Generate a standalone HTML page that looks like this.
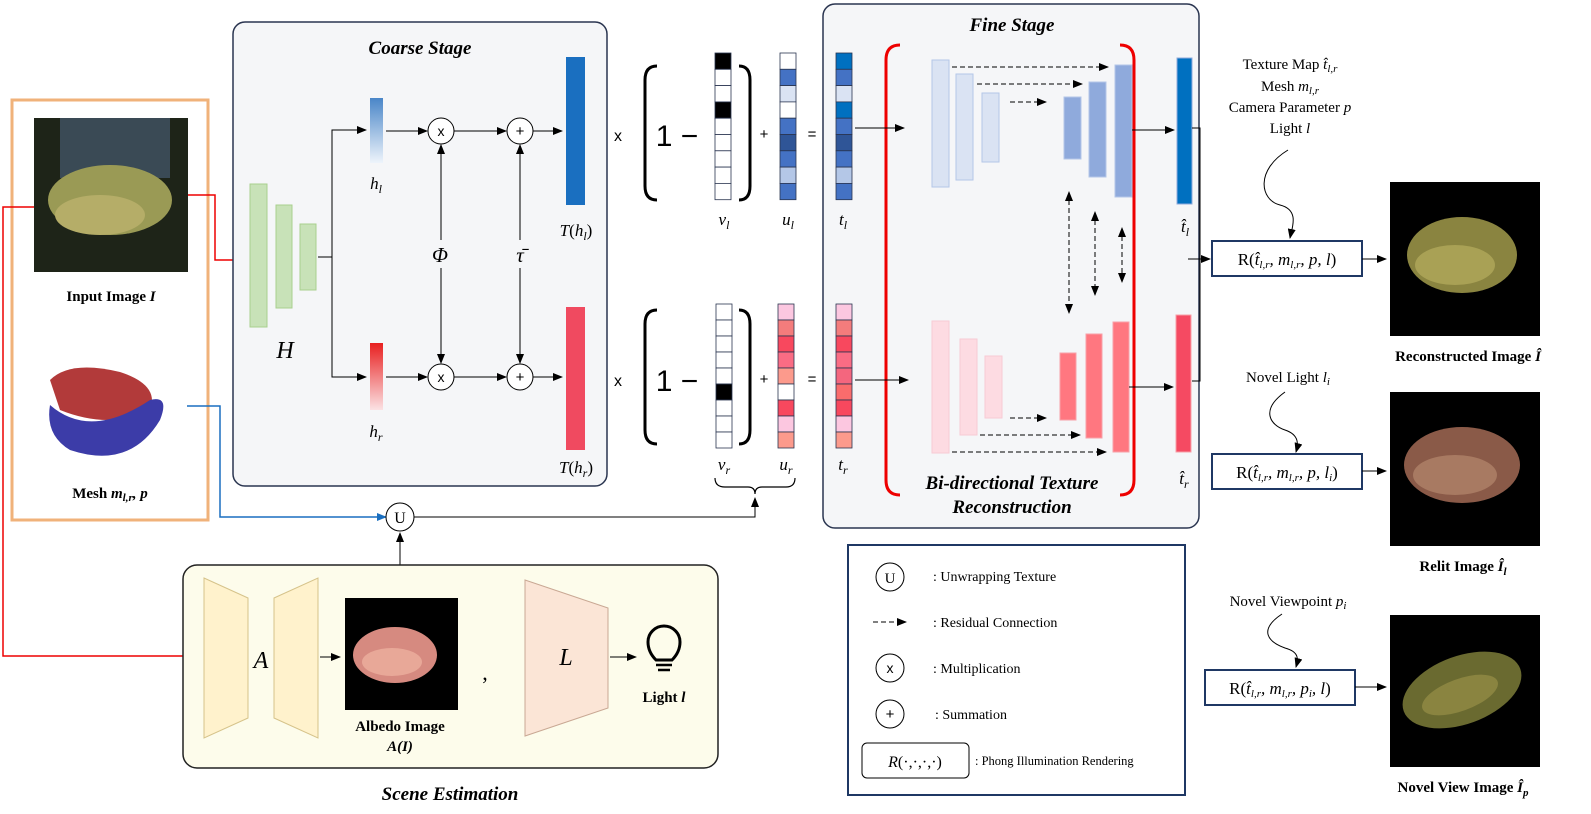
<!DOCTYPE html>
<html><head><meta charset="utf-8"><style>
body{margin:0;background:#fff}
svg{display:block;font-family:"Liberation Serif",serif}
</style></head><body>
<svg width="1591" height="814" viewBox="0 0 1591 814" xmlns="http://www.w3.org/2000/svg">
<defs>
<marker id="a" markerWidth="10" markerHeight="8" refX="9" refY="4" orient="auto" markerUnits="userSpaceOnUse"><path d="M0,0L10,4L0,8z" fill="#000"/></marker>
<marker id="ar" markerWidth="10" markerHeight="8" refX="9" refY="4" orient="auto" markerUnits="userSpaceOnUse"><path d="M0,0L10,4L0,8z" fill="#e00"/></marker>
<marker id="ab" markerWidth="10" markerHeight="8" refX="9" refY="4" orient="auto" markerUnits="userSpaceOnUse"><path d="M0,0L10,4L0,8z" fill="#1a6fc0"/></marker>
<marker id="as" markerWidth="10" markerHeight="8" refX="1" refY="4" orient="auto-start-reverse" markerUnits="userSpaceOnUse"><path d="M0,0L10,4L0,8z" fill="#000"/></marker>
<linearGradient id="gb" x1="0" y1="0" x2="0" y2="1"><stop offset="0" stop-color="#4a86c8"/><stop offset="1" stop-color="#eef4fb"/></linearGradient>
<linearGradient id="gr" x1="0" y1="0" x2="0" y2="1"><stop offset="0" stop-color="#e82020"/><stop offset="1" stop-color="#fbe2e4"/></linearGradient>
</defs>

<!-- Fine stage background first -->
<rect x="823" y="4" width="376" height="524" rx="12" fill="#f5f6f8" stroke="#2a3550" stroke-width="1.5"/>

<!-- Orange input box -->
<rect x="12" y="100" width="196" height="420" fill="none" stroke="#f0b27a" stroke-width="3"/>
<rect x="34" y="118" width="154" height="154" fill="#1e2418"/>
<rect x="60" y="118" width="110" height="60" fill="#3a4a55"/>
<ellipse cx="110" cy="200" rx="62" ry="35" fill="#9a9a55"/>
<ellipse cx="100" cy="215" rx="45" ry="20" fill="#b5ad68"/>
<text x="111" y="301" font-size="15" font-weight="bold" text-anchor="middle">Input Image <tspan font-style="italic">I</tspan></text>
<path d="M50,380 Q70,360 120,372 Q160,385 150,410 Q110,430 60,410 Z" fill="#b23a3a"/>
<path d="M50,405 Q90,440 150,400 Q170,395 160,420 Q130,470 70,450 Q45,435 50,405 Z" fill="#3c3ca8"/>
<text x="110" y="498" font-size="15" font-weight="bold" text-anchor="middle">Mesh <tspan font-style="italic">m<tspan font-size="11" dy="3">l,r</tspan><tspan dy="-3">, p</tspan></tspan></text>

<polyline points="188,195 215,195 215,260 248,260" fill="none" stroke="#e00" stroke-width="1.5" marker-end="url(#ar)"/>
<polyline points="34,207 3,207 3,656 200,656" fill="none" stroke="#e00" stroke-width="1.5" marker-end="url(#ar)"/>
<polyline points="187,406 220,406 220,517 386,517" fill="none" stroke="#1a6fc0" stroke-width="1.5" marker-end="url(#ab)"/>

<!-- Coarse stage -->
<rect x="233" y="22" width="374" height="464" rx="12" fill="#f5f6f8" stroke="#2a3550" stroke-width="1.5"/>
<text x="420" y="54" font-size="19" font-weight="bold" font-style="italic" text-anchor="middle">Coarse Stage</text>
<rect x="250" y="184" width="17" height="143" fill="#c8e2b8" stroke="#a9d08e"/>
<rect x="276" y="205" width="16" height="103" fill="#c8e2b8" stroke="#a9d08e"/>
<rect x="300" y="224" width="16" height="66" fill="#c8e2b8" stroke="#a9d08e"/>
<text x="285" y="358" font-size="24" font-style="italic" text-anchor="middle">H</text>
<polyline points="318,257 332,257 332,130 366,130" fill="none" stroke="#000" marker-end="url(#a)"/>
<polyline points="332,257 332,377 366,377" fill="none" stroke="#000" marker-end="url(#a)"/>
<rect x="370" y="98" width="13" height="65" fill="url(#gb)"/>
<rect x="370" y="343" width="13" height="67" fill="url(#gr)"/>
<text x="376" y="189" font-size="17" font-style="italic" text-anchor="middle">h<tspan font-size="12" dy="4">l</tspan></text>
<text x="376" y="437" font-size="17" font-style="italic" text-anchor="middle">h<tspan font-size="12" dy="4">r</tspan></text>
<line x1="386" y1="131" x2="427" y2="131" stroke="#000" marker-end="url(#a)"/>
<line x1="386" y1="377" x2="427" y2="377" stroke="#000" marker-end="url(#a)"/>
<circle cx="441" cy="131" r="13" fill="#fff" stroke="#000"/><text x="441" y="136" font-size="14" font-family="Liberation Sans" text-anchor="middle">x</text>
<circle cx="441" cy="377" r="13" fill="#fff" stroke="#000"/><text x="441" y="382" font-size="14" font-family="Liberation Sans" text-anchor="middle">x</text>
<circle cx="520" cy="131" r="13" fill="#fff" stroke="#000"/><text x="520" y="136" font-size="15" font-family="Liberation Sans" text-anchor="middle">+</text>
<circle cx="520" cy="377" r="13" fill="#fff" stroke="#000"/><text x="520" y="382" font-size="15" font-family="Liberation Sans" text-anchor="middle">+</text>
<line x1="454" y1="131" x2="506" y2="131" stroke="#000" marker-end="url(#a)"/>
<line x1="454" y1="377" x2="506" y2="377" stroke="#000" marker-end="url(#a)"/>
<line x1="533" y1="131" x2="562" y2="131" stroke="#000" marker-end="url(#a)"/>
<line x1="533" y1="377" x2="562" y2="377" stroke="#000" marker-end="url(#a)"/>
<line x1="441" y1="240" x2="441" y2="145" stroke="#000" marker-end="url(#a)"/>
<line x1="441" y1="268" x2="441" y2="363" stroke="#000" marker-end="url(#a)"/>
<line x1="520" y1="240" x2="520" y2="145" stroke="#000" marker-end="url(#a)"/>
<line x1="520" y1="268" x2="520" y2="363" stroke="#000" marker-end="url(#a)"/>
<text x="440" y="262" font-size="21" font-style="italic" text-anchor="middle">Φ</text>
<text x="520" y="262" font-size="21" font-style="italic" text-anchor="middle">τ̄</text>
<rect x="566" y="57" width="19" height="148" fill="#1a6fc0"/>
<rect x="566" y="307" width="19" height="143" fill="#f04a60"/>
<text x="576" y="236" font-size="17" text-anchor="middle"><tspan font-style="italic">T</tspan>(<tspan font-style="italic">h</tspan><tspan font-size="12" dy="4" font-style="italic">l</tspan><tspan dy="-4">)</tspan></text>
<text x="576" y="473" font-size="17" text-anchor="middle"><tspan font-style="italic">T</tspan>(<tspan font-style="italic">h</tspan><tspan font-size="12" dy="4" font-style="italic">r</tspan><tspan dy="-4">)</tspan></text>

<g font-family="Liberation Sans">
<text x="618" y="141" font-size="16" text-anchor="middle">x</text>
<text x="618" y="386" font-size="16" text-anchor="middle">x</text>
<text x="677" y="146" font-size="30" text-anchor="middle">1 −</text>
<text x="677" y="391" font-size="30" text-anchor="middle">1 −</text>
<text x="764" y="139" font-size="15" text-anchor="middle">+</text>
<text x="764" y="384" font-size="15" text-anchor="middle">+</text>
<text x="812" y="139" font-size="15" text-anchor="middle">=</text>
<text x="812" y="384" font-size="15" text-anchor="middle">=</text>
</g>
<path d="M657,66 Q645,66 645,80 L645,186 Q645,200 657,200" fill="none" stroke="#000" stroke-width="3"/>
<path d="M739,66 Q750,66 750,80 L750,186 Q750,200 739,200" fill="none" stroke="#000" stroke-width="3"/>
<path d="M657,310 Q645,310 645,324 L645,430 Q645,444 657,444" fill="none" stroke="#000" stroke-width="3"/>
<path d="M739,310 Q750,310 750,324 L750,430 Q750,444 739,444" fill="none" stroke="#000" stroke-width="3"/>
<g stroke="#2a3550" stroke-width="0.8">
<rect x="715" y="53" width="16" height="16.3" fill="#000"/><rect x="715" y="69.3" width="16" height="16.3" fill="#fff"/><rect x="715" y="85.6" width="16" height="16.3" fill="#fff"/><rect x="715" y="101.9" width="16" height="16.3" fill="#000"/><rect x="715" y="118.2" width="16" height="16.3" fill="#fff"/><rect x="715" y="134.5" width="16" height="16.3" fill="#fff"/><rect x="715" y="150.8" width="16" height="16.3" fill="#fff"/><rect x="715" y="167.1" width="16" height="16.3" fill="#fff"/><rect x="715" y="183.4" width="16" height="16.3" fill="#fff"/>
<rect x="780" y="53" width="16" height="16.3" fill="#fff"/><rect x="780" y="69.3" width="16" height="16.3" fill="#4472c4"/><rect x="780" y="85.6" width="16" height="16.3" fill="#dae3f3"/><rect x="780" y="101.9" width="16" height="16.3" fill="#fff"/><rect x="780" y="118.2" width="16" height="16.3" fill="#4472c4"/><rect x="780" y="134.5" width="16" height="16.3" fill="#2f5597"/><rect x="780" y="150.8" width="16" height="16.3" fill="#4472c4"/><rect x="780" y="167.1" width="16" height="16.3" fill="#b4c7e7"/><rect x="780" y="183.4" width="16" height="16.3" fill="#4472c4"/>
<rect x="836" y="53" width="16" height="16.3" fill="#0070c0"/><rect x="836" y="69.3" width="16" height="16.3" fill="#4472c4"/><rect x="836" y="85.6" width="16" height="16.3" fill="#dae3f3"/><rect x="836" y="101.9" width="16" height="16.3" fill="#0070c0"/><rect x="836" y="118.2" width="16" height="16.3" fill="#4472c4"/><rect x="836" y="134.5" width="16" height="16.3" fill="#2f5597"/><rect x="836" y="150.8" width="16" height="16.3" fill="#4472c4"/><rect x="836" y="167.1" width="16" height="16.3" fill="#b4c7e7"/><rect x="836" y="183.4" width="16" height="16.3" fill="#4472c4"/>
<rect x="716" y="304" width="16" height="16" fill="#fff"/><rect x="716" y="320" width="16" height="16" fill="#fff"/><rect x="716" y="336" width="16" height="16" fill="#fff"/><rect x="716" y="352" width="16" height="16" fill="#fff"/><rect x="716" y="368" width="16" height="16" fill="#fff"/><rect x="716" y="384" width="16" height="16" fill="#000"/><rect x="716" y="400" width="16" height="16" fill="#fff"/><rect x="716" y="416" width="16" height="16" fill="#fff"/><rect x="716" y="432" width="16" height="16" fill="#fff"/>
<rect x="778" y="304" width="16" height="16" fill="#fcc7e0"/><rect x="778" y="320" width="16" height="16" fill="#f47c7c"/><rect x="778" y="336" width="16" height="16" fill="#f8485e"/><rect x="778" y="352" width="16" height="16" fill="#fa6c84"/><rect x="778" y="368" width="16" height="16" fill="#fc9a8c"/><rect x="778" y="384" width="16" height="16" fill="#fff"/><rect x="778" y="400" width="16" height="16" fill="#f8485e"/><rect x="778" y="416" width="16" height="16" fill="#fcc7e0"/><rect x="778" y="432" width="16" height="16" fill="#fc9a8c"/>
<rect x="836" y="304" width="16" height="16" fill="#fcc7e0"/><rect x="836" y="320" width="16" height="16" fill="#f47c7c"/><rect x="836" y="336" width="16" height="16" fill="#f8485e"/><rect x="836" y="352" width="16" height="16" fill="#fa6c84"/><rect x="836" y="368" width="16" height="16" fill="#f4667e"/><rect x="836" y="384" width="16" height="16" fill="#fa6c6c"/><rect x="836" y="400" width="16" height="16" fill="#f8485e"/><rect x="836" y="416" width="16" height="16" fill="#fcc7e0"/><rect x="836" y="432" width="16" height="16" fill="#fc9a8c"/>
</g>
<g font-size="17" font-style="italic" text-anchor="middle">
<text x="724" y="225">v<tspan font-size="12" dy="4">l</tspan></text>
<text x="788" y="225">u<tspan font-size="12" dy="4">l</tspan></text>
<text x="843" y="225">t<tspan font-size="12" dy="4">l</tspan></text>
<text x="724" y="470">v<tspan font-size="12" dy="4">r</tspan></text>
<text x="786" y="470">u<tspan font-size="12" dy="4">r</tspan></text>
<text x="843" y="470">t<tspan font-size="12" dy="4">r</tspan></text>
</g>
<path d="M715,478 Q715,487 725,487 L748,487 Q755,487 755,494 Q755,487 762,487 L786,487 Q795,487 795,478" fill="none" stroke="#000" stroke-width="1.2"/>
<circle cx="400" cy="517" r="14" fill="#fff" stroke="#000"/><text x="400" y="523" font-size="16" text-anchor="middle">U</text>
<polyline points="414,517 755,517 755,498" fill="none" stroke="#000" marker-end="url(#a)"/>
<line x1="400" y1="598" x2="400" y2="533" stroke="#000" marker-end="url(#a)"/>

<!-- Fine stage contents -->
<text x="1012" y="31" font-size="19" font-weight="bold" font-style="italic" text-anchor="middle">Fine Stage</text>
<path d="M900,45 Q886,45 886,60 L886,480 Q886,495 900,495" fill="none" stroke="#e00" stroke-width="3"/>
<path d="M1120,45 Q1134,45 1134,60 L1134,480 Q1134,495 1120,495" fill="none" stroke="#e00" stroke-width="3"/>
<line x1="855" y1="128" x2="904" y2="128" stroke="#000" marker-end="url(#a)"/>
<line x1="855" y1="380" x2="908" y2="380" stroke="#000" marker-end="url(#a)"/>
<g stroke="#b4c7e7"><rect x="932" y="60" width="17" height="127" fill="#dae3f3"/><rect x="956" y="74" width="17" height="106" fill="#dae3f3"/><rect x="982" y="93" width="17" height="69" fill="#dae3f3"/>
<rect x="1064" y="97" width="17" height="62" fill="#8faadc"/><rect x="1089" y="82" width="17" height="95" fill="#8faadc"/><rect x="1115" y="65" width="17" height="132" fill="#8faadc"/></g>
<g stroke="#f8cbd4"><rect x="932" y="321" width="17" height="132" fill="#fddbe2"/><rect x="960" y="339" width="17" height="96" fill="#fddbe2"/><rect x="985" y="356" width="17" height="62" fill="#fddbe2"/></g>
<g stroke="#f8a0a8"><rect x="1060" y="353" width="16" height="67" fill="#ff7780"/><rect x="1086" y="334" width="16" height="104" fill="#ff7780"/><rect x="1113" y="322" width="16" height="130" fill="#ff7780"/></g>
<g stroke="#000" stroke-dasharray="5,3" fill="none">
<line x1="952" y1="67" x2="1108" y2="67" marker-end="url(#a)"/>
<line x1="977" y1="84" x2="1082" y2="84" marker-end="url(#a)"/>
<line x1="1010" y1="102" x2="1046" y2="102" marker-end="url(#a)"/>
<line x1="1010" y1="418" x2="1046" y2="418" marker-end="url(#a)"/>
<line x1="980" y1="435" x2="1080" y2="435" marker-end="url(#a)"/>
<line x1="952" y1="452" x2="1106" y2="452" marker-end="url(#a)"/>
<line x1="1069" y1="200" x2="1069" y2="313" marker-start="url(#as)" marker-end="url(#a)"/>
<line x1="1095" y1="220" x2="1095" y2="295" marker-start="url(#as)" marker-end="url(#a)"/>
<line x1="1122" y1="236" x2="1122" y2="282" marker-start="url(#as)" marker-end="url(#a)"/>
</g>
<line x1="1132" y1="130" x2="1174" y2="130" stroke="#000" marker-end="url(#a)"/>
<line x1="1129" y1="387" x2="1173" y2="387" stroke="#000" marker-end="url(#a)"/>
<rect x="1177" y="58" width="15" height="146" fill="#0070c0" stroke="#8faadc"/>
<rect x="1176" y="315" width="15" height="137" fill="#f54a62" stroke="#f8a0a8"/>
<text x="1185" y="232" font-size="17" font-style="italic" text-anchor="middle">t̂<tspan font-size="12" dy="4">l</tspan></text>
<text x="1184" y="484" font-size="17" font-style="italic" text-anchor="middle">t̂<tspan font-size="12" dy="4">r</tspan></text>
<text x="1012" y="489" font-size="19" font-weight="bold" font-style="italic" text-anchor="middle">Bi-directional Texture</text>
<text x="1012" y="513" font-size="19" font-weight="bold" font-style="italic" text-anchor="middle">Reconstruction</text>
<polyline points="1192,128 1200,128 1200,381 1192,381" fill="none" stroke="#000"/>
<line x1="1188" y1="259" x2="1210" y2="259" stroke="#000" marker-end="url(#a)"/>

<g font-size="15" text-anchor="middle">
<text x="1290" y="69">Texture Map <tspan font-style="italic">t̂<tspan font-size="11" dy="3">l,r</tspan></tspan></text>
<text x="1290" y="91">Mesh <tspan font-style="italic">m<tspan font-size="11" dy="3">l,r</tspan></tspan></text>
<text x="1290" y="112">Camera Parameter <tspan font-style="italic">p</tspan></text>
<text x="1290" y="133">Light <tspan font-style="italic">l</tspan></text>
<text x="1288" y="382">Novel Light <tspan font-style="italic">l<tspan font-size="11" dy="3">i</tspan></tspan></text>
<text x="1288" y="606">Novel Viewpoint <tspan font-style="italic">p<tspan font-size="11" dy="3">i</tspan></tspan></text>
</g>
<path d="M1288,150 C1255,170 1260,200 1280,205 C1300,210 1292,228 1290,238" fill="none" stroke="#000" marker-end="url(#a)"/>
<path d="M1285,392 C1260,410 1270,425 1285,430 C1300,435 1298,445 1296,452" fill="none" stroke="#000" marker-end="url(#a)"/>
<path d="M1282,614 C1258,630 1268,642 1285,648 C1300,652 1298,660 1296,667" fill="none" stroke="#000" marker-end="url(#a)"/>
<g fill="#fff" stroke="#1f3864" stroke-width="2">
<rect x="1212" y="241" width="150" height="35"/>
<rect x="1212" y="454" width="150" height="35"/>
<rect x="1205" y="670" width="150" height="35"/>
</g>
<g font-size="17" text-anchor="middle" font-style="italic">
<text x="1287" y="265"><tspan font-style="normal">R(</tspan>t̂<tspan font-size="11" dy="3">l,r</tspan><tspan dy="-3">, m</tspan><tspan font-size="11" dy="3">l,r</tspan><tspan dy="-3">, p, l</tspan><tspan font-style="normal">)</tspan></text>
<text x="1287" y="478"><tspan font-style="normal">R(</tspan>t̂<tspan font-size="11" dy="3">l,r</tspan><tspan dy="-3">, m</tspan><tspan font-size="11" dy="3">l,r</tspan><tspan dy="-3">, p, l</tspan><tspan font-size="11" dy="3">i</tspan><tspan dy="-3" font-style="normal">)</tspan></text>
<text x="1280" y="694"><tspan font-style="normal">R(</tspan>t̂<tspan font-size="11" dy="3">l,r</tspan><tspan dy="-3">, m</tspan><tspan font-size="11" dy="3">l,r</tspan><tspan dy="-3">, p</tspan><tspan font-size="11" dy="3">i</tspan><tspan dy="-3">, l</tspan><tspan font-style="normal">)</tspan></text>
</g>
<line x1="1362" y1="259" x2="1386" y2="259" stroke="#000" marker-end="url(#a)"/>
<line x1="1362" y1="471" x2="1386" y2="471" stroke="#000" marker-end="url(#a)"/>
<line x1="1355" y1="687" x2="1386" y2="687" stroke="#000" marker-end="url(#a)"/>
<rect x="1390" y="182" width="150" height="154" fill="#000"/>
<ellipse cx="1462" cy="255" rx="55" ry="38" fill="#8a8440"/><ellipse cx="1455" cy="265" rx="40" ry="20" fill="#a9a155"/>
<rect x="1390" y="392" width="150" height="154" fill="#000"/>
<ellipse cx="1462" cy="465" rx="58" ry="38" fill="#8a5a48"/><ellipse cx="1455" cy="475" rx="42" ry="20" fill="#a87a62"/>
<rect x="1390" y="615" width="150" height="152" fill="#000"/>
<ellipse cx="1462" cy="690" rx="62" ry="34" fill="#6a6a30" transform="rotate(-20 1462 690)"/><ellipse cx="1460" cy="695" rx="40" ry="16" fill="#8a8440" transform="rotate(-20 1460 695)"/>
<g font-size="15" font-weight="bold" text-anchor="middle">
<text x="1468" y="361">Reconstructed  Image  <tspan font-style="italic">Î</tspan></text>
<text x="1463" y="571">Relit  Image <tspan font-style="italic">Î<tspan font-size="11" dy="4">l</tspan></tspan></text>
<text x="1463" y="792">Novel View Image <tspan font-style="italic">Î<tspan font-size="11" dy="4">p</tspan></tspan></text>
</g>

<rect x="183" y="565" width="535" height="203" rx="14" fill="#fdfceb" stroke="#222" stroke-width="1.5"/>
<polygon points="204,578 248,598 248,718 204,738" fill="#fff2cc" stroke="#d6c38a"/>
<polygon points="274,598 318,578 318,738 274,718" fill="#fff2cc" stroke="#d6c38a"/>
<text x="261" y="668" font-size="24" font-style="italic" text-anchor="middle">A</text>
<line x1="320" y1="657" x2="340" y2="657" stroke="#000" marker-end="url(#a)"/>
<rect x="345" y="598" width="113" height="112" fill="#000"/>
<ellipse cx="395" cy="655" rx="42" ry="28" fill="#d68a80"/><ellipse cx="392" cy="662" rx="30" ry="14" fill="#e8a898"/>
<text x="400" y="731" font-size="15" font-weight="bold" text-anchor="middle">Albedo Image</text>
<text x="400" y="751" font-size="15" font-weight="bold" text-anchor="middle" font-style="italic">A(I)</text>
<text x="485" y="680" font-size="22" text-anchor="middle">,</text>
<polygon points="525,580 608,608 608,708 525,736" fill="#fbe5d6" stroke="#c9a894"/>
<text x="566" y="665" font-size="24" font-style="italic" text-anchor="middle">L</text>
<line x1="610" y1="657" x2="636" y2="657" stroke="#000" marker-end="url(#a)"/>
<path d="M656,660 Q648,652 648,642 A16,16 0 1 1 680,642 Q680,652 672,660 Z" fill="none" stroke="#000" stroke-width="3"/>
<line x1="656" y1="665" x2="672" y2="665" stroke="#000" stroke-width="2.5"/>
<line x1="658" y1="670" x2="670" y2="670" stroke="#000" stroke-width="2.5"/>
<text x="664" y="702" font-size="15" font-weight="bold" text-anchor="middle">Light <tspan font-style="italic">l</tspan></text>
<text x="450" y="800" font-size="19" font-weight="bold" font-style="italic" text-anchor="middle">Scene Estimation</text>

<rect x="848" y="545" width="337" height="250" fill="#fff" stroke="#1f3864" stroke-width="2"/>
<circle cx="890" cy="577" r="14" fill="#fff" stroke="#000"/><text x="890" y="583" font-size="15" text-anchor="middle">U</text>
<text x="933" y="581" font-size="14">: Unwrapping Texture</text>
<line x1="873" y1="622" x2="906" y2="622" stroke="#000" stroke-dasharray="5,3" marker-end="url(#a)"/>
<text x="933" y="627" font-size="14">: Residual Connection</text>
<circle cx="890" cy="668" r="14" fill="#fff" stroke="#000"/><text x="890" y="673" font-size="14" font-family="Liberation Sans" text-anchor="middle">x</text>
<text x="933" y="673" font-size="14">: Multiplication</text>
<circle cx="890" cy="714" r="14" fill="#fff" stroke="#000"/><text x="890" y="719" font-size="15" font-family="Liberation Sans" text-anchor="middle">+</text>
<text x="935" y="719" font-size="14">: Summation</text>
<rect x="862" y="743" width="107" height="35" rx="5" fill="#fff" stroke="#000"/>
<text x="915" y="767" font-size="16" text-anchor="middle"><tspan font-style="italic">R</tspan>(·,·,·,·)</text>
<text x="975" y="765" font-size="12.5">: Phong Illumination Rendering</text>
</svg>
</body></html>
